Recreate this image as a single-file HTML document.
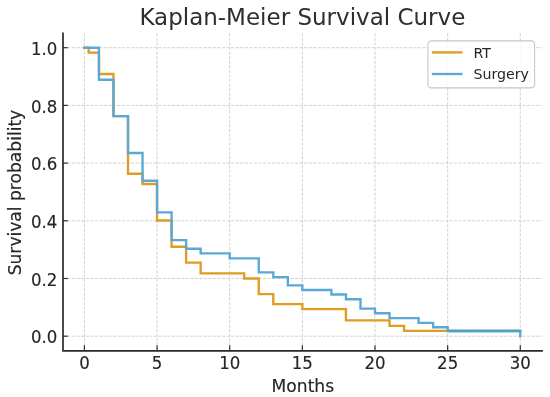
<!DOCTYPE html>
<html><head><meta charset="utf-8"><title>Kaplan-Meier Survival Curve</title>
<style>
html,body{margin:0;padding:0;background:#fff;}
body{width:550px;height:397px;overflow:hidden;}
svg{display:block;}
text{font-family:"DejaVu Sans","Liberation Sans",sans-serif;fill:#262626;stroke:#262626;stroke-width:0.15px;}
.g{stroke:#cdcdcd;stroke-width:0.9;stroke-dasharray:3.18 1.37;stroke-dashoffset:-0.2;fill:none;}
.c{fill:none;stroke-width:2.35;stroke-linecap:square;stroke-linejoin:miter;}
.sp{fill:none;stroke:#2a2a2a;stroke-width:1.7;stroke-linecap:square;}
.tk{stroke:#333;stroke-width:1.2;}
.tl{font-size:16.6px;}
.al{font-size:17.1px;}
.ti{font-size:23px;stroke-width:0;fill:#2e2e2e;}
.le{font-size:14.2px;stroke-width:0;}
.lg{fill:#fff;fill-opacity:0.8;stroke:#c8c8c8;stroke-width:1.1;}
</style></head><body>
<svg width="550" height="397" viewBox="0 0 550 397">
<rect width="550" height="397" fill="#fff"/>
<line x1="84.42" y1="350.62" x2="84.42" y2="33.27" class="g"/>
<line x1="157.06" y1="350.62" x2="157.06" y2="33.27" class="g"/>
<line x1="229.71" y1="350.62" x2="229.71" y2="33.27" class="g"/>
<line x1="302.36" y1="350.62" x2="302.36" y2="33.27" class="g"/>
<line x1="375.00" y1="350.62" x2="375.00" y2="33.27" class="g"/>
<line x1="447.65" y1="350.62" x2="447.65" y2="33.27" class="g"/>
<line x1="520.29" y1="350.62" x2="520.29" y2="33.27" class="g"/>
<line x1="62.63" y1="336.20" x2="542.08" y2="336.20" class="g"/>
<line x1="62.63" y1="278.50" x2="542.08" y2="278.50" class="g"/>
<line x1="62.63" y1="220.80" x2="542.08" y2="220.80" class="g"/>
<line x1="62.63" y1="163.10" x2="542.08" y2="163.10" class="g"/>
<line x1="62.63" y1="105.40" x2="542.08" y2="105.40" class="g"/>
<line x1="62.63" y1="47.70" x2="542.08" y2="47.70" class="g"/>
<path d="M84.42 47.70 H88.63 V52.60 H98.95 V73.95 H113.48 V116.07 H128.01 V173.77 H142.54 V184.02 H157.06 V220.51 H171.59 V246.76 H186.12 V262.63 H200.65 V273.31 H244.24 V278.50 H258.77 V294.19 H273.30 V304.18 H302.36 V309.08 H345.94 V320.33 H389.53 V325.90 H404.06 V330.81 H520.29 V330.81" class="c" stroke="#dd9c22"/>
<path d="M84.42 47.70 H98.95 V79.72 H113.48 V116.07 H128.01 V153.00 H142.54 V180.70 H157.06 V212.43 H171.59 V240.13 H186.12 V248.78 H200.65 V253.40 H229.71 V258.30 H258.77 V272.44 H273.30 V277.06 H287.83 V285.42 H302.36 V290.04 H331.41 V294.51 H345.94 V299.27 H360.47 V308.62 H375.00 V313.21 H389.53 V318.11 H418.59 V322.81 H433.12 V327.26 H447.65 V331.01 H520.29 V336.20" class="c" stroke="#5aa8d6"/>
<line x1="448.70" y1="331.01" x2="519.24" y2="331.01" class="c" stroke="#52a0c2" stroke-linecap="butt"/>
<path d="M63.00 33.27 V350.90 H542.08" class="sp"/>
<line x1="84.42" y1="350.90" x2="84.42" y2="345.20" class="tk"/>
<text transform="translate(84.42 369.1) scale(1 1.06)" class="tl" text-anchor="middle">0</text>
<line x1="157.06" y1="350.90" x2="157.06" y2="345.20" class="tk"/>
<text transform="translate(157.06 369.1) scale(1 1.06)" class="tl" text-anchor="middle">5</text>
<line x1="229.71" y1="350.90" x2="229.71" y2="345.20" class="tk"/>
<text transform="translate(229.71 369.1) scale(1 1.06)" class="tl" text-anchor="middle">10</text>
<line x1="302.36" y1="350.90" x2="302.36" y2="345.20" class="tk"/>
<text transform="translate(302.36 369.1) scale(1 1.06)" class="tl" text-anchor="middle">15</text>
<line x1="375.00" y1="350.90" x2="375.00" y2="345.20" class="tk"/>
<text transform="translate(375.00 369.1) scale(1 1.06)" class="tl" text-anchor="middle">20</text>
<line x1="447.65" y1="350.90" x2="447.65" y2="345.20" class="tk"/>
<text transform="translate(447.65 369.1) scale(1 1.06)" class="tl" text-anchor="middle">25</text>
<line x1="520.29" y1="350.90" x2="520.29" y2="345.20" class="tk"/>
<text transform="translate(520.29 369.1) scale(1 1.06)" class="tl" text-anchor="middle">30</text>
<line x1="63.00" y1="336.20" x2="67.90" y2="336.20" class="tk"/>
<text transform="translate(57.4 343.30) scale(1 1.06)" class="tl" text-anchor="end">0.0</text>
<line x1="63.00" y1="278.50" x2="67.90" y2="278.50" class="tk"/>
<text transform="translate(57.4 285.60) scale(1 1.06)" class="tl" text-anchor="end">0.2</text>
<line x1="63.00" y1="220.80" x2="67.90" y2="220.80" class="tk"/>
<text transform="translate(57.4 227.90) scale(1 1.06)" class="tl" text-anchor="end">0.4</text>
<line x1="63.00" y1="163.10" x2="67.90" y2="163.10" class="tk"/>
<text transform="translate(57.4 170.20) scale(1 1.06)" class="tl" text-anchor="end">0.6</text>
<line x1="63.00" y1="105.40" x2="67.90" y2="105.40" class="tk"/>
<text transform="translate(57.4 112.50) scale(1 1.06)" class="tl" text-anchor="end">0.8</text>
<line x1="63.00" y1="47.70" x2="67.90" y2="47.70" class="tk"/>
<text transform="translate(57.4 54.80) scale(1 1.06)" class="tl" text-anchor="end">1.0</text>
<text x="302.85" y="391.7" class="al" text-anchor="middle">Months</text>
<text transform="translate(20.5 192.55) rotate(-90)" class="al" text-anchor="middle">Survival probability</text>
<text x="302.35" y="24.5" class="ti" text-anchor="middle">Kaplan-Meier Survival Curve</text>
<rect x="427.85" y="40.9" width="106.75" height="47.0" rx="3.6" class="lg"/>
<line x1="431.8" y1="52.4" x2="462.5" y2="52.4" class="c" stroke="#dd9c22" style="stroke-linecap:butt"/>
<line x1="431.8" y1="74.0" x2="462.5" y2="74.0" class="c" stroke="#5aa8d6" style="stroke-linecap:butt"/>
<text x="473.4" y="57.9" class="le">RT</text>
<text x="473.4" y="79.3" class="le">Surgery</text>
</svg>
</body></html>
